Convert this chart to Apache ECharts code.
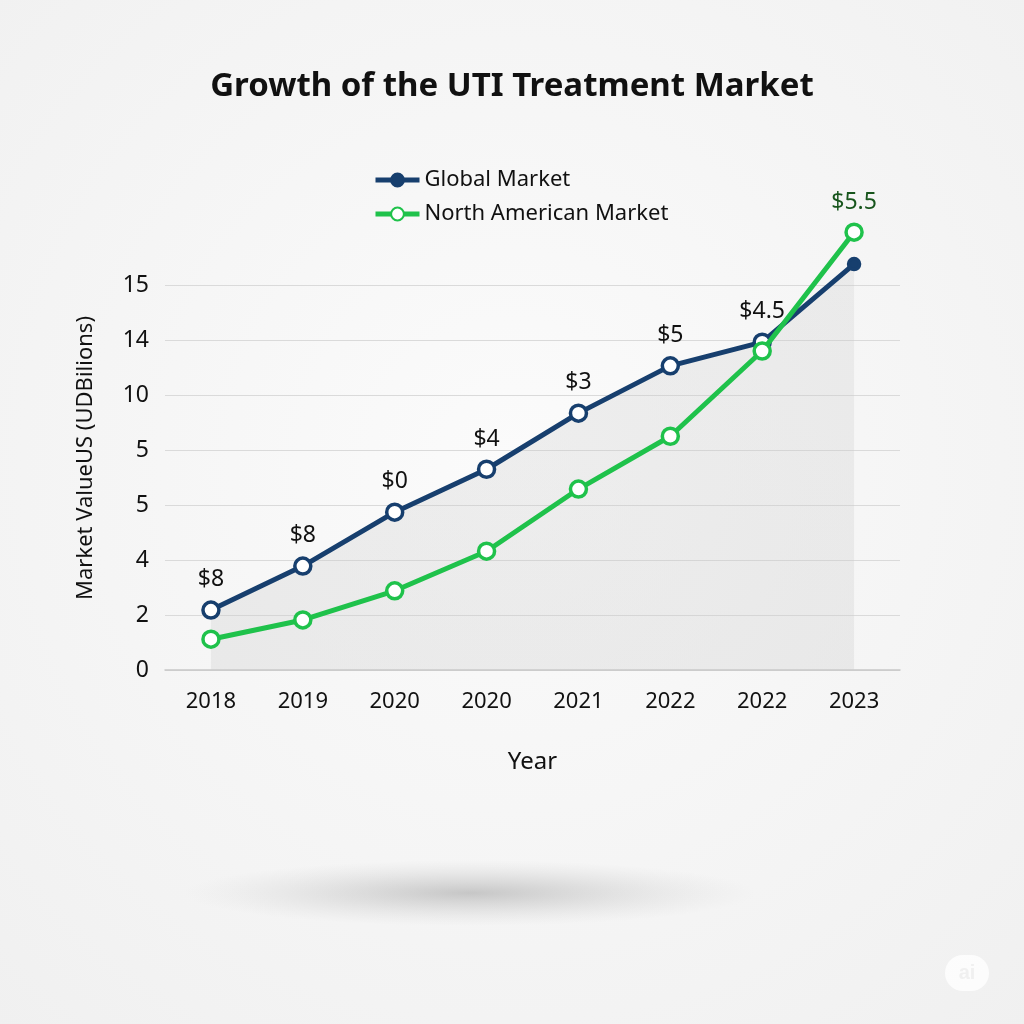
<!DOCTYPE html>
<html>
<head>
<meta charset="utf-8">
<script src="https://cdn.jsdelivr.net/npm/echarts@6/dist/echarts.min.js"></script>
<style>
  html, body { margin: 0; padding: 0; background: #f5f5f5; }
  #chart { width: 1024px; height: 1024px; }
</style>
</head>
<body>
<div id="chart"></div>
<script>
// categories and tick labels as printed in the picture
const years = ['2018', '2019', '2020', '2020', '2021', '2022', '2022', '2023']
const yTickLabels = ['0', '2', '4', '5', '5', '10', '14', '15']

// values in tick-slot units (one slot per printed tick)
const globalValues = [1.09, 1.89, 2.87, 3.65, 4.67, 5.53, 5.96, 7.38]
const northAmericaValues = [0.56, 0.91, 1.44, 2.16, 3.29, 4.25, 5.8, 7.96]

const globalLabels = ['$8', '$8', '$0', '$4', '$3', '$5', '$4.5', '']
const northAmericaLabels = ['', '', '', '', '', '', '', '$5.5']

const NAVY = '#173f6e'
const GREEN = '#1fc24b'
const FONT = '"Noto Sans", "Open Sans", sans-serif'

const chart = echarts.init(document.getElementById('chart'))

const globalData = globalValues.map((v, i) => {
  const item = { value: v, label: { formatter: globalLabels[i] } }
  if (i === globalValues.length - 1) {
    item.symbolSize = 11
    item.itemStyle = { color: NAVY, borderColor: NAVY }
  }
  return item
})

const northAmericaData = northAmericaValues.map((v, i) => ({
  value: v,
  label: { show: !!northAmericaLabels[i], formatter: northAmericaLabels[i] },
}))

// one grid line per printed tick, none for the headroom slot on top
const gridLineColors = yTickLabels.map(() => '#dadada').concat(['rgba(0,0,0,0)'])

chart.setOption({
  backgroundColor: {
    type: 'radial', x: 0.5, y: 0.45, r: 0.75,
    colorStops: [
      { offset: 0, color: '#fbfbfb' },
      { offset: 1, color: '#f0f0f0' },
    ],
  },
  textStyle: { fontFamily: FONT },
  title: {
    text: 'Growth of the UTI Treatment Market',
    left: 'center',
    top: 65,
    textStyle: { fontSize: 33, fontWeight: 'bold', color: '#111', fontFamily: FONT },
  },
  legend: {
    orient: 'vertical',
    left: 368,
    top: 164,
    itemGap: 12,
    itemWidth: 44,
    itemHeight: 16,
    textStyle: { fontSize: 22, color: '#111', fontFamily: FONT },
    data: [
      { name: 'Global Market', itemStyle: { color: NAVY, borderColor: NAVY }, lineStyle: { width: 5 } },
      { name: 'North American Market', lineStyle: { width: 5 } },
    ],
  },
  grid: { left: 165, right: 124, top: 230, bottom: 354, containLabel: false },
  xAxis: {
    type: 'category',
    data: years,
    boundaryGap: true,
    name: 'Year',
    nameLocation: 'middle',
    nameGap: 80,
    nameTextStyle: { fontSize: 24, color: '#111', fontFamily: FONT },
    axisLine: { lineStyle: { color: '#c8c8c8', width: 1.5 } },
    axisTick: { alignWithLabel: true, length: 7, lineStyle: { color: '#c8c8c8' } },
    axisLabel: { fontSize: 22, color: '#111', margin: 21, fontFamily: FONT },
  },
  yAxis: {
    type: 'value',
    min: 0,
    max: 8,
    interval: 1,
    name: 'Market ValueUS (UDBilions)',
    nameLocation: 'middle',
    nameGap: 68,
    nameRotate: 90,
    nameTextStyle: { fontSize: 22, color: '#111', fontFamily: FONT, padding: [0, 16, 0, 0] },
    axisLine: { show: false },
    axisTick: { show: false },
    axisLabel: {
      fontSize: 23, color: '#111', margin: 16, fontFamily: FONT,
      formatter: (v) => yTickLabels[Math.round(v)] ?? '',
    },
    splitLine: { lineStyle: { color: gridLineColors, width: 1.2 } },
  },
  series: [
    {
      name: 'Global Market',
      type: 'line',
      data: globalData,
      symbol: 'circle',
      symbolSize: 16,
      z: 3,
      lineStyle: { color: NAVY, width: 5 },
      itemStyle: { color: '#ffffff', borderColor: NAVY, borderWidth: 3.5 },
      label: { show: true, position: 'top', distance: 9, fontSize: 23, color: '#111', fontFamily: FONT },
      areaStyle: {
        color: {
          type: 'linear', x: 0, y: 0, x2: 0, y2: 1,
          colorStops: [
            { offset: 0, color: 'rgba(200,200,200,0.35)' },
            { offset: 1, color: 'rgba(205,205,205,0.45)' },
          ],
        },
      },
    },
    {
      name: 'North American Market',
      type: 'line',
      data: northAmericaData,
      symbol: 'circle',
      symbolSize: 16,
      z: 4,
      lineStyle: { color: GREEN, width: 5 },
      itemStyle: { color: '#ffffff', borderColor: GREEN, borderWidth: 3.5 },
      label: { position: 'top', distance: 8, fontSize: 23, color: '#17551c', fontFamily: FONT },
    },
  ],
  graphic: [
    {
      type: 'circle',
      x: 470,
      y: 893,
      scaleX: 6.5,
      scaleY: 0.75,
      shape: { cx: 0, cy: 0, r: 44 },
      style: {
        fill: {
          type: 'radial', x: 0.5, y: 0.5, r: 0.5,
          colorStops: [
            { offset: 0, color: 'rgba(160,160,160,0.55)' },
            { offset: 0.45, color: 'rgba(175,175,175,0.3)' },
            { offset: 1, color: 'rgba(200,200,200,0)' },
          ],
        },
      },
      silent: true,
    },
    {
      type: 'group',
      left: 945,
      top: 955,
      children: [
        { type: 'rect', shape: { x: 0, y: 0, width: 44, height: 36, r: 18 }, style: { fill: '#ffffff', opacity: 0.8 } },
        { type: 'text', style: { x: 22, y: 18, text: 'ai', align: 'center', verticalAlign: 'middle', fill: '#f0f0f0', font: 'bold 20px sans-serif' } },
      ],
      silent: true,
    },
  ],
})
</script>
</body>
</html>
